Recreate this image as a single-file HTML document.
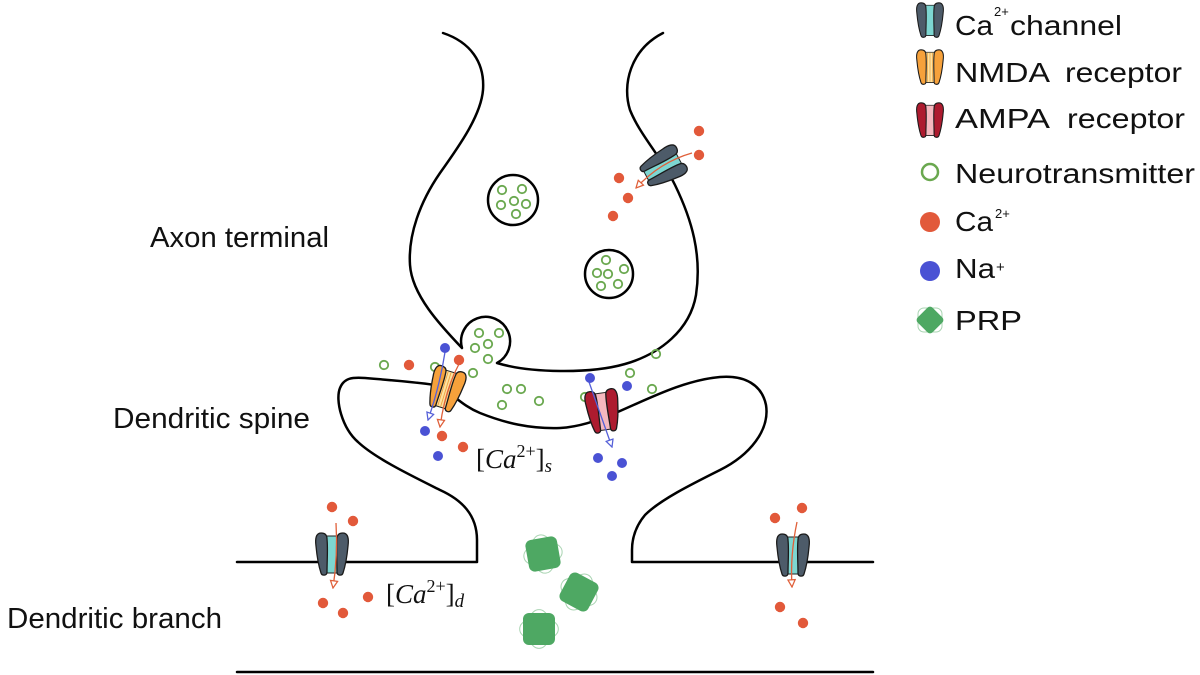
<!DOCTYPE html>
<html><head><meta charset="utf-8"><style>
html,body{margin:0;padding:0;background:#fff;}
svg{display:block;}
text{font-family:"Liberation Sans",Arial,sans-serif;fill:#111;}
</style></head><body>
<svg width="1200" height="675" viewBox="0 0 1200 675" xmlns="http://www.w3.org/2000/svg">
<defs>
<marker id="arR" viewBox="0 0 10 10" refX="9" refY="5" markerWidth="9" markerHeight="9" markerUnits="userSpaceOnUse" orient="auto"><path d="M1,1 L9,5 L1,9 Z" fill="#fff" stroke="#e0603a" stroke-width="1.4"/></marker>
<marker id="arB" viewBox="0 0 10 10" refX="9" refY="5" markerWidth="9" markerHeight="9" markerUnits="userSpaceOnUse" orient="auto"><path d="M1,1 L9,5 L1,9 Z" fill="#fff" stroke="#5560d8" stroke-width="1.4"/></marker>
<path id="lobe" d="M -11,-21 C -16,-21 -17,-15 -16,-8 C -15,3 -13,13 -11,19 C -10,22 -5,22 -5,18 C -5,8 -4,-6 -5,-15 C -5,-19 -7,-21 -11,-21 Z"/>
<g id="chCa">
<path d="M -8,-18 L 8,-18 L 6.5,19 L -6.5,19 Z" fill="#7dd6d1" stroke="#222" stroke-width="1"/>
<use href="#lobe" fill="#4d5b69" stroke="#1b1b1b" stroke-width="1.3"/>
<use href="#lobe" transform="scale(-1,1)" fill="#4d5b69" stroke="#1b1b1b" stroke-width="1.3"/>
</g>
<g id="chN">
<path d="M -8,-18 L 8,-18 L 6.5,19 L -6.5,19 Z" fill="#fde3a0" stroke="#222" stroke-width="1"/>
<path d="M -3,-17 L -3,18 M 0,-17 L 0,18 M 3,-17 L 3,18" stroke="#f0a040" stroke-width="0.9"/>
<use href="#lobe" fill="#f6a13b" stroke="#1b1b1b" stroke-width="1.3"/>
<use href="#lobe" transform="scale(-1,1)" fill="#f6a13b" stroke="#1b1b1b" stroke-width="1.3"/>
</g>
<g id="chA">
<path d="M -8,-18 L 8,-18 L 6.5,19 L -6.5,19 Z" fill="#f6b8bf" stroke="#222" stroke-width="1"/>
<use href="#lobe" fill="#ad1b2f" stroke="#1b1b1b" stroke-width="1.3"/>
<use href="#lobe" transform="scale(-1,1)" fill="#ad1b2f" stroke="#1b1b1b" stroke-width="1.3"/>
</g>
<g id="prp">
<rect x="-16" y="-16" width="32" height="32" rx="8" transform="rotate(45)" fill="none" stroke="#a9d4b2" stroke-width="1"/>
<rect x="-16" y="-16" width="32" height="32" rx="6" fill="#4ea863"/>
</g>
</defs>

<!-- membranes -->
<g fill="none" stroke="#000" stroke-width="2.5" stroke-linecap="round" stroke-linejoin="round">
<path d="M 443,33 C 470,42 485,62 483,90 C 481,115 460,145 440,173 C 420,202 408,235 410,265 C 412,295 440,325 462,348 A 24.5,24.5 0 1 1 497,363 C 530,373 590,374 625,364 C 660,354 690,330 696,295 C 702,255 692,220 675,185 C 660,155 640,135 630,110 C 622,85 630,50 663,33"/>
<path d="M 237,562 L 477,562 L 477,540 C 477,515 462,500 440,490 C 410,475 375,458 358,442 C 342,428 335,400 340,388 C 344,378 352,377 365,378 C 390,380 415,382 435,385 C 450,390 460,405 480,413 C 505,423 530,429 560,428 C 580,427 600,420 620,411 C 650,398 685,380 720,377 C 745,375 762,385 766,405 C 770,430 750,455 720,470 C 690,485 660,500 645,515 C 635,527 632,540 632,550 L 632,562 L 873,562"/>
<path d="M 237,672 L 873,672"/>
<circle cx="513" cy="200" r="25"/>
<circle cx="609" cy="274" r="24"/>
</g>

<!-- neurotransmitters -->
<g fill="none" stroke="#6aa84f" stroke-width="1.8">
<circle cx="502" cy="190" r="4.2"/><circle cx="522" cy="189" r="4.2"/><circle cx="501" cy="205" r="4.2"/><circle cx="514" cy="201" r="4.2"/><circle cx="526" cy="204" r="4.2"/><circle cx="516" cy="214" r="4.2"/>
<circle cx="606" cy="260" r="4.2"/><circle cx="597" cy="273" r="4.2"/><circle cx="608" cy="274" r="4.2"/><circle cx="624" cy="269" r="4.2"/><circle cx="601" cy="286" r="4.2"/><circle cx="618" cy="284" r="4.2"/>
<circle cx="479" cy="333" r="4.2"/><circle cx="499" cy="333" r="4.2"/><circle cx="475" cy="348" r="4.2"/><circle cx="488" cy="344" r="4.2"/><circle cx="488" cy="359" r="4.2"/>
<circle cx="473" cy="373" r="4.2"/><circle cx="384" cy="365" r="4.2"/><circle cx="435" cy="367" r="4.2"/><circle cx="507" cy="389" r="4.2"/><circle cx="521" cy="389" r="4.2"/><circle cx="502" cy="405" r="4.2"/><circle cx="539" cy="401" r="4.2"/><circle cx="656" cy="354" r="4.2"/><circle cx="630" cy="373" r="4.2"/><circle cx="652" cy="389" r="4.2"/><circle cx="585" cy="397" r="4.2"/>
</g>

<!-- channels -->
<use href="#chCa" transform="translate(663,167) rotate(62)"/>
<use href="#chN" transform="translate(446,389) rotate(17)"/>
<use href="#chA" transform="translate(603,411) rotate(-8)"/>
<use href="#chCa" transform="translate(332,554)"/>
<use href="#chCa" transform="translate(793,555)"/>

<!-- arrows -->
<g fill="none" stroke-width="1.3">
<path d="M 692,153 Q 660,162 636,188" stroke="#e0603a" marker-end="url(#arR)"/>
<path d="M 445,352 Q 440,385 428,420" stroke="#5560d8" marker-end="url(#arB)"/>
<path d="M 459,364 Q 445,390 440,427" stroke="#e0603a" marker-end="url(#arR)"/>
<path d="M 589,382 L 612,447" stroke="#5560d8" marker-end="url(#arB)"/>
<path d="M 336,523 Q 338,555 333,588" stroke="#e0603a" marker-end="url(#arR)"/>
<path d="M 797,522 Q 790,555 792,587" stroke="#e0603a" marker-end="url(#arR)"/>
</g>

<!-- Ca dots -->
<g fill="#e2593a">
<circle cx="699" cy="131" r="5.2"/><circle cx="699" cy="155" r="5.2"/><circle cx="619" cy="178" r="5.2"/><circle cx="628" cy="198" r="5.2"/><circle cx="613" cy="216" r="5.2"/>
<circle cx="409" cy="365" r="5.2"/><circle cx="459" cy="360" r="5.2"/><circle cx="442" cy="436" r="5.2"/><circle cx="463" cy="447" r="5.2"/>
<circle cx="332" cy="507" r="5.2"/><circle cx="353" cy="521" r="5.2"/><circle cx="323" cy="603" r="5.2"/><circle cx="343" cy="613" r="5.2"/><circle cx="368" cy="597" r="5.2"/>
<circle cx="775" cy="518" r="5.2"/><circle cx="802" cy="508" r="5.2"/><circle cx="780" cy="607" r="5.2"/><circle cx="803" cy="623" r="5.2"/>
</g>
<!-- Na dots -->
<g fill="#4a52d4">
<circle cx="445" cy="348" r="5"/><circle cx="425" cy="431" r="5"/><circle cx="438" cy="456" r="5"/>
<circle cx="590" cy="378" r="5"/><circle cx="627" cy="386" r="5"/><circle cx="598" cy="458" r="5"/><circle cx="622" cy="463" r="5"/><circle cx="612" cy="476" r="5"/>
</g>

<!-- PRPs -->
<use href="#prp" transform="translate(543,554) rotate(-10)"/>
<use href="#prp" transform="translate(579,592) rotate(28)"/>
<use href="#prp" transform="translate(539,629)"/>

<!-- math labels -->
<text x="476" y="468" font-size="27" style="font-family:'Liberation Serif',serif">[<tspan font-style="italic">Ca</tspan><tspan font-size="18" dy="-11">2+</tspan><tspan dy="11">]</tspan><tspan font-size="19" font-style="italic" dy="4">s</tspan></text>
<text x="386" y="603" font-size="27" style="font-family:'Liberation Serif',serif">[<tspan font-style="italic">Ca</tspan><tspan font-size="18" dy="-11">2+</tspan><tspan dy="11">]</tspan><tspan font-size="19" font-style="italic" dy="4">d</tspan></text>

<!-- region labels -->
<text x="150" y="247" font-size="29" textLength="179" lengthAdjust="spacingAndGlyphs">Axon terminal</text>
<text x="113" y="428" font-size="29" textLength="197" lengthAdjust="spacingAndGlyphs">Dendritic spine</text>
<text x="7" y="628" font-size="29" textLength="215" lengthAdjust="spacingAndGlyphs">Dendritic branch</text>

<!-- legend -->
<use href="#chCa" transform="translate(930,20) scale(0.82)"/>
<use href="#chN" transform="translate(930,67) scale(0.82)"/>
<use href="#chA" transform="translate(930,120) scale(0.82)"/>
<circle cx="930" cy="172" r="8" fill="none" stroke="#6aa84f" stroke-width="2.5"/>
<circle cx="930" cy="222" r="10" fill="#e2593a"/>
<circle cx="930" cy="271" r="10" fill="#4a52d4"/>
<g transform="translate(930,320) rotate(45)">
<rect x="-12" y="-12" width="24" height="24" rx="6" transform="rotate(45)" fill="none" stroke="#a9d4b2" stroke-width="1"/>
<rect x="-10.5" y="-10.5" width="21" height="21" rx="3.5" fill="#4ea863"/>
</g>
<g font-size="28">
<text x="955" y="35" textLength="38" lengthAdjust="spacingAndGlyphs">Ca</text>
<text x="994" y="16" font-size="13">2+</text>
<text x="1010" y="35" textLength="112" lengthAdjust="spacingAndGlyphs">channel</text>
<text x="955" y="82" textLength="95" lengthAdjust="spacingAndGlyphs">NMDA</text>
<text x="1065" y="82" textLength="117" lengthAdjust="spacingAndGlyphs">receptor</text>
<text x="955" y="128" textLength="95" lengthAdjust="spacingAndGlyphs">AMPA</text>
<text x="1067" y="128" textLength="118" lengthAdjust="spacingAndGlyphs">receptor</text>
<text x="955" y="183" textLength="240" lengthAdjust="spacingAndGlyphs">Neurotransmitter</text>
<text x="955" y="231" textLength="38" lengthAdjust="spacingAndGlyphs">Ca</text>
<text x="995" y="218" font-size="13">2+</text>
<text x="955" y="278" textLength="40" lengthAdjust="spacingAndGlyphs">Na</text>
<text x="996" y="272" font-size="15">+</text>
<text x="955" y="330" textLength="67" lengthAdjust="spacingAndGlyphs">PRP</text>
</g>
</svg>
</body></html>
